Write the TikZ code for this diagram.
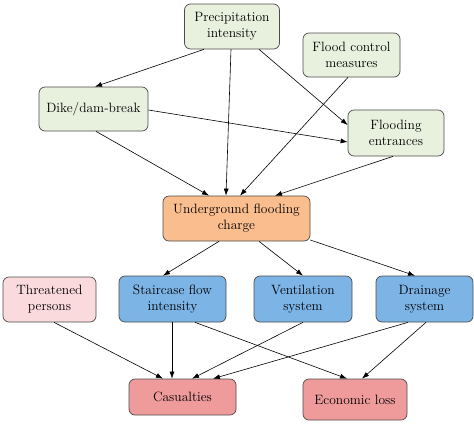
\documentclass[tikz,border=0pt]{standalone}
\usepackage{mathpazo}
\usepackage{xcolor}
\usepackage{tikz}
\usetikzlibrary{arrows.meta}
\definecolor{cgreen}{RGB}{232,240,222}
\definecolor{corange}{RGB}{250,190,142}
\definecolor{cpink}{RGB}{250,218,221}
\definecolor{cblue}{RGB}{124,180,230}
\definecolor{cred}{RGB}{239,154,155}
\begin{document}
\begin{tikzpicture}[x=1pt, y=-1pt,
  box/.style={draw=black!70, line width=0.7pt, rounded corners=6pt, align=center, inner sep=2pt,
    font=\fontsize{13.5}{16}\selectfont},
  cause/.style={box, fill=cgreen},
  charge/.style={box, fill=corange},
  person/.style={box, fill=cpink},
  factor/.style={box, fill=cblue},
  result/.style={box, fill=cred},
  arr/.style={-{Latex[length=7pt,width=5pt]}, semithick, black}]
\useasboundingbox (0,0) rectangle (474,424);
\node[cause, minimum width=95pt, minimum height=45pt] (precip) at (232,26.5) {Precipitation\\intensity};
\node[cause, minimum width=97pt, minimum height=44pt] (control) at (351.5,55) {Flood control\\measures};
\node[cause, minimum width=109pt, minimum height=44pt] (dike) at (93.5,109) {Dike/dam-break};
\node[cause, minimum width=96pt, minimum height=46pt] (entrance) at (396,133) {Flooding\\entrances};
\node[charge, minimum width=147pt, minimum height=45pt] (charge) at (236.5,218.5) {Underground flooding\\charge};
\node[person, minimum width=93pt, minimum height=45pt] (persons) at (49.5,299.5) {Threatened\\persons};
\node[factor, minimum width=107pt, minimum height=46pt] (stair) at (172.5,299) {Staircase flow\\intensity};
\node[factor, minimum width=98pt, minimum height=46pt] (vent) at (303,299) {Ventilation\\system};
\node[factor, minimum width=97pt, minimum height=46pt] (drain) at (424.5,299) {Drainage\\system};
\node[result, minimum width=107pt, minimum height=36pt] (casual) at (182.5,397) {Casualties};
\node[result, minimum width=104pt, minimum height=41pt] (loss) at (355,399.5) {Economic loss};

\draw[arr] (precip.south -| 204,0) -- (dike.north -| 95,0);
\draw[arr] (precip.south -| 231,0) -- (charge.north -| 226,0);
\draw[arr] (precip.south -| 259,0) -- (entrance.north west |- 0,125);
\draw[arr] (control.south -| 348,0) -- (charge.north -| 240,0);
\draw[arr] (dike.east |- 0,110) -- (entrance.west |- 0,142);
\draw[arr] (dike.south -| 96,0) -- (charge.north -| 209,0);
\draw[arr] (entrance.south -| 393,0) -- (charge.north -| 275,0);
\draw[arr] (charge.south -| 219,0) -- (stair.north -| 163,0);
\draw[arr] (charge.south -| 259,0) -- (vent.north -| 303,0);
\draw[arr] (charge.east |- 0,240) -- (drain.north -| 415,0);
\draw[arr] (persons.south -| 54,0) -- (casual.north -| 163,0);
\draw[arr] (stair.south -| 172,0) -- (casual.north -| 172,0);
\draw[arr] (stair.south -| 195,0) -- (loss.north -| 347,0);
\draw[arr] (vent.south -| 303,0) -- (casual.north -| 192,0);
\draw[arr] (drain.south -| 408,0) -- (casual.north -| 213,0);
\draw[arr] (drain.south -| 426,0) -- (loss.north -| 362,0);
\end{tikzpicture}
\end{document}
